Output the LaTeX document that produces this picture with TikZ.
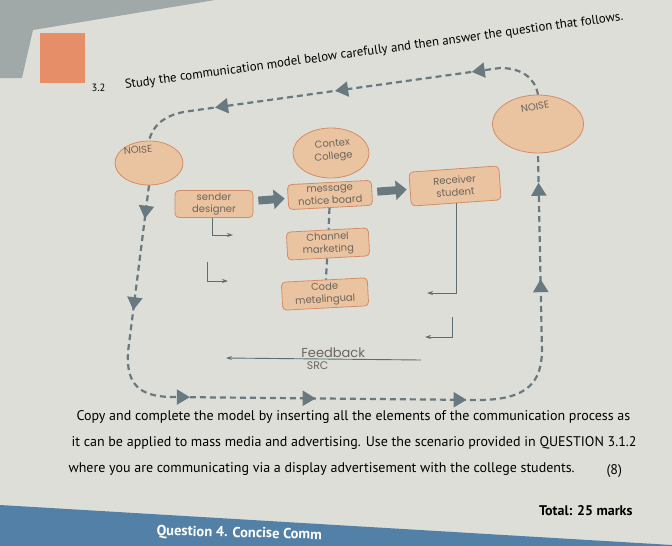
\documentclass[tikz,border=0pt]{standalone}
\usepackage{fontspec}
\setmainfont{PT Sans}
\newfontfamily\hand{Poppins}
\usetikzlibrary{arrows.meta,decorations.markings,shapes.geometric,positioning,calc}
\definecolor{page}{RGB}{222,222,217}
\definecolor{peach}{RGB}{234,196,160}
\definecolor{peachline}{RGB}{212,140,102}
\definecolor{slate}{RGB}{104,121,127}
\definecolor{ink}{RGB}{108,100,94}
\definecolor{band}{RGB}{82,128,166}
\definecolor{tab}{RGB}{230,142,104}
\definecolor{backdrop}{RGB}{160,168,168}

\begin{document}
\begin{tikzpicture}[x=1pt,y=-1pt,font=\fontsize{14}{16}\selectfont,
  blob/.style={ellipse,draw=peachline,fill=peach,line width=0.8pt,inner sep=0pt},
  box/.style={rectangle,rounded corners=4pt,draw=peachline,fill=peach,line width=0.8pt,
    inner sep=1pt,align=center,text=ink,font=\hand\fontsize{10}{12.5}\selectfont},
  hw/.style={text=ink,font=\hand\fontsize{10}{12.5}\selectfont,align=center},
  dashline/.style={draw=slate,line width=2.2pt,dash pattern=on 6pt off 4pt},
  block/.style={draw=slate,line width=8pt,-{Triangle[length=11pt,width=19pt]}},
  thinarrow/.style={draw=slate!90!black,line width=0.9pt,-{Stealth[length=6pt,width=4pt]}},
  tipat/.style={postaction={decorate,decoration={markings,
    mark=at position #1 with {\arrow{Triangle[length=13pt,width=15pt]}}}}}]
  \useasboundingbox (0,0) rectangle (672,546);
  % page and photo surroundings
  \fill[page] (0,0) rectangle (672,546);
  \fill[backdrop] (0,0) -- (215,0) -- (33,30) -- (22,78) -- (0,78) -- cycle;
  \fill[tab] (40,33) rectangle (85,83);
  \fill[band] (0,505) -- (672,545) -- (672,546) -- (0,546) -- cycle;

  % question text
  \node[anchor=base west,font=\fontsize{10.5}{11}\selectfont] (qnum) at (88,91) {3.2};
  \node[anchor=base west,rotate=7.8,font=\fontsize{12.8}{14}\selectfont] (qtext) at (122,89)
    {Study the communication model below carefully and then answer the question that follows.};

  % the model
  \node[blob,minimum width=68,minimum height=44] (lnoise) at (149,163) {};
  \node[hw,rotate=4] (lnoisetxt) at (138,150) {NOISE};
  \node[blob,minimum width=76,minimum height=50] (context) at (331,153) {};
  \node[hw,rotate=6] (contexttxt) at (333,151) {Contex\\College};
  \node[blob,minimum width=91,minimum height=58] (rnoise) at (538,124) {};
  \node[hw,rotate=10] (rnoisetxt) at (535,107) {NOISE};

  \node[box,minimum width=78,minimum height=27] (sender) at (214,204) {sender\\designer};
  \node[box,minimum width=84,minimum height=25,rotate=3] (message) at (330,195) {message\\notice board};
  \node[box,minimum width=90,minimum height=34,rotate=4] (receiver) at (455,186) {Receiver\\student};
  \node[box,minimum width=82,minimum height=28,rotate=3] (channel) at (328,244) {Channel\\marketing};
  \node[box,minimum width=86,minimum height=28,rotate=3] (code) at (325,294) {Code\\metelingual};

  \draw[block,shorten <=5pt,shorten >=3pt] (sender) -- (message);
  \draw[block,shorten <=5pt,shorten >=3pt] (message) -- (receiver);
  \draw[dashline] (message) -- (channel);
  \draw[dashline] (channel) -- (code);

  \coordinate (sendtip) at (233,235);
  \draw[thinarrow] (sender.south -| 212,0) |- (sendtip);
  \coordinate (midL) at (207,262);
  \coordinate (midtip) at (228,281);
  \draw[thinarrow] (midL) |- (midtip);
  \coordinate (rectip) at (427,293);
  \draw[thinarrow] (receiver.south) |- (rectip);
  \coordinate (lowL) at (452,317);
  \coordinate (lowtip) at (425,337);
  \draw[thinarrow] (lowL) |- (lowtip);
  \coordinate (fbfrom) at (421,360);
  \coordinate (fbto) at (226,358);
  \draw[thinarrow] (fbfrom) -- node[hw,above=-2pt,pos=0.45,font=\hand\fontsize{13}{13}\selectfont] (fbtxt) {Feedback}
    node[hw,below=-1pt,pos=0.53,font=\hand\fontsize{11}{11}\selectfont] (srctxt) {SRC} (fbto);

  % the noise loop
  \draw[dashline,tipat=0.19,tipat=0.52,tipat=0.81] (rnoise.north)
    .. controls (535,78) and (522,68) .. (500,68) -- (190,111)
    .. controls (165,114) and (153,125) .. (lnoise.north);
  \draw[dashline,tipat=0.04,tipat=0.15,tipat=0.31,tipat=0.46,tipat=0.64,tipat=0.85,tipat=0.965]
    (lnoise.south) -- (128,352) .. controls (126,385) and (140,396) .. (170,397)
    -- (478,400) .. controls (530,400) and (541,380) .. (542,352) -- (rnoise.south);

  % task text
  \node[anchor=base west] (task1) at (73,420)
    {Copy and complete the model by inserting all the elements of the communication process as};
  \node[anchor=base west] (task2) at (68,446)
    {it can be applied to mass media and advertising. Use the scenario provided in QUESTION 3.1.2};
  \node[anchor=base west] (task3) at (65,472)
    {where you are communicating via a display advertisement with the college students.};
  \node[anchor=base west] (marks) at (603,474) {(8)};
  \node[anchor=base east,font=\bfseries\fontsize{14}{15}\selectfont] (total) at (636,515) {Total: 25 marks};
  \node[anchor=base west,rotate=-1.5,text=white,font=\bfseries\fontsize{14.5}{15}\selectfont] (nextq) at (153,535)
    {Question 4. Concise Comm};
\end{tikzpicture}
\end{document}
